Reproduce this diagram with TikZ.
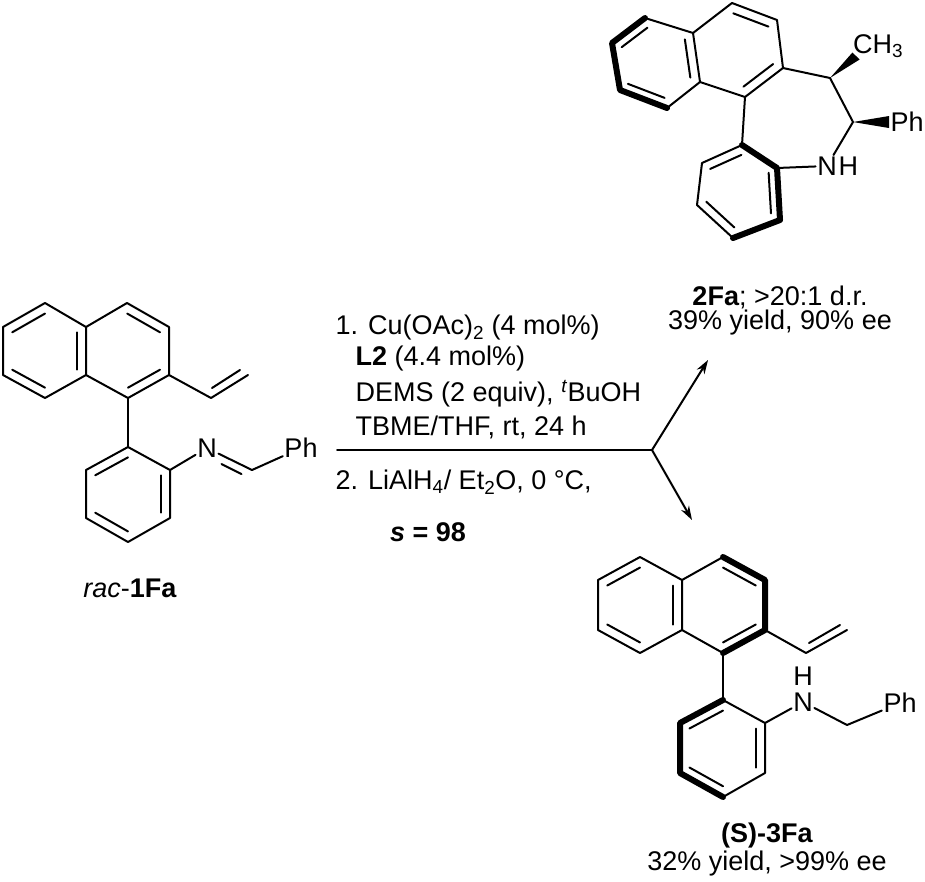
\documentclass[tikz,border=0pt]{standalone}
\usepackage{fontspec}
\setmainfont{Liberation Sans}
\usetikzlibrary{calc,arrows.meta}
\tikzset{bond/.style={line width=2pt,line cap=round,line join=round},
 thick bond/.style={line width=6pt,line cap=round,line join=round},
 lbl/.style={inner sep=1.5pt,font=\fontsize{27}{32}\selectfont},
 arr/.style={line width=2pt,-{Stealth[length=14pt,width=9pt]}}}
\newcommand\ib[3]{\draw[bond] ($(#1)!0.22!(#3)$) -- ($(#2)!0.22!(#3)$);}
\begin{document}
\begin{tikzpicture}[x=1pt,y=-1pt]
\useasboundingbox (0,0) rectangle (925,881);
% ===== substrate rac-1Fa
\coordinate (a1) at (45,303); \coordinate (a2) at (86,327); \coordinate (a3) at (86,375);
\coordinate (a4) at (45,398); \coordinate (a5) at (3,375); \coordinate (a6) at (3,327);
\coordinate (aL) at (45,351);
\coordinate (b2) at (127,303); \coordinate (b3) at (169,327); \coordinate (b4) at (169,375);
\coordinate (b5) at (128,398); \coordinate (bR) at (128,351);
\draw[bond] (a1)--(a2)--(a3)--(a4)--(a5)--(a6)--cycle;
\draw[bond] (a2)--(b2)--(b3)--(b4)--(b5)--(a3);
\ib{a1}{a6}{aL}\ib{a5}{a4}{aL}\ib{a2}{a3}{aL}
\ib{b2}{b3}{bR}\ib{b4}{b5}{bR}
\coordinate (v1) at (211,398); \coordinate (v2) at (248,375);
\draw[bond] (b4)--(v1)--(v2);
\draw[bond] (212,388)--(240,370);
\coordinate (c1) at (128,447); \coordinate (c2) at (170,470); \coordinate (c3) at (170,518);
\coordinate (c4) at (128,542); \coordinate (c5) at (86,518); \coordinate (c6) at (86,470);
\coordinate (cC) at (128,494);
\draw[bond] (b5)--(c1);
\draw[bond] (c1)--(c2)--(c3)--(c4)--(c5)--(c6)--cycle;
\ib{c1}{c6}{cC}\ib{c2}{c3}{cC}\ib{c4}{c5}{cC}
\node[lbl] (n1) at (207,448) {N};
\node[lbl] (ph1) at (301,448) {Ph};
\coordinate (im) at (252,470);
\draw[bond] (c2)--(n1)--(im)--(ph1);
\draw[bond] (221.5,464)--(241.5,474);
\node[lbl] (l1) at (130,588) {\textit{rac}-\textbf{1Fa}};
% ===== arrow and conditions
\coordinate (s0) at (337,450); \coordinate (br) at (652,450);
\coordinate (up) at (708,360); \coordinate (dn) at (692,520);
\draw[bond] (s0)--(br);
\draw[arr] (br)--(up);
\draw[arr] (br)--(dn);
\node[lbl,anchor=west] (r1) at (334,328) {1. Cu(OAc)\textsubscript{2} (4 mol\%)};
\node[lbl,anchor=west] (r2) at (354,359) {\textbf{L2} (4.4 mol\%)};
\node[lbl,anchor=west] (r3) at (354,394) {DEMS (2 equiv), \textsuperscript{\textit{t}}BuOH};
\node[lbl,anchor=west] (r4) at (354,427) {TBME/THF, rt, 24 h};
\node[lbl,anchor=west] (r5) at (334,482) {2. LiAlH\textsubscript{4}/ Et\textsubscript{2}O, 0 °C,};
\node[lbl] (r6) at (428,532) {\textbf{\textit{s} = 98}};
% ===== product 2Fa
\coordinate (p1) at (645,18); \coordinate (p2) at (612,43); \coordinate (p3) at (620,90);
\coordinate (p4) at (667,108); \coordinate (p5) at (700,82); \coordinate (p6) at (693,33);
\coordinate (pL) at (656,62);
\coordinate (q2) at (732,3); \coordinate (q3) at (777,20); \coordinate (q4) at (783,68);
\coordinate (q5) at (745,97); \coordinate (qR) at (738,50);
\draw[bond] (p3)--(p4) (p4)--(p5)--(p6)--(p1);
\draw[thick bond] (p1)--(p2)--(p3)--(p4);
\draw[bond] (p6)--(q2)--(q3)--(q4)--(q5)--(p5);
\ib{p1}{p2}{pL}\ib{p3}{p4}{pL}\ib{p5}{p6}{pL}
\ib{q2}{q3}{qR}\ib{q4}{q5}{qR}
\coordinate (d1) at (742,145); \coordinate (d2) at (777,168); \coordinate (d3) at (780,220);
\coordinate (d4) at (733,238); \coordinate (d5) at (697,205); \coordinate (d6) at (702,163);
\coordinate (dC) at (739,190);
\draw[bond] (q5)--(d1);
\draw[bond] (d3)--(d4)--(d5)--(d6)--(d1);
\draw[thick bond] (d1)--(d2)--(d3)--(d4);
\ib{d1}{d6}{dC}\ib{d5}{d4}{dC}\ib{d2}{d3}{dC}
\coordinate (e1) at (830,78); \coordinate (e2) at (853,122);
\node[lbl] (n2) at (827,166) {N};
\node[lbl,anchor=west,inner sep=0pt] (h2) at (n2.east) {H};
\draw[bond] (q4)--(e1)--(e2)--(n2)--(d2);
\fill (e1)--(859.6,59.5)--(852.4,52.5)--cycle;
\node[lbl] (me) at (878,46) {CH\textsubscript{3}};
\fill (e2)--(889,116)--(889,128)--cycle;
\node[lbl] (ph2) at (907,122) {Ph};
\node[lbl] (l2) at (780,297) {\textbf{2Fa}; >20:1 d.r.};
\node[lbl] (l2b) at (780,323) {39\% yield, 90\% ee};
% ===== product 3Fa
\coordinate (f1) at (640,557); \coordinate (f2) at (682,580); \coordinate (f3) at (682,630);
\coordinate (f4) at (640,653); \coordinate (f5) at (598,630); \coordinate (f6) at (598,580);
\coordinate (fL) at (640,605);
\coordinate (g2) at (723,557); \coordinate (g3) at (765,580); \coordinate (g4) at (765,630);
\coordinate (g5) at (723,653); \coordinate (gR) at (723,605);
\draw[bond] (f1)--(f2)--(f3)--(f4)--(f5)--(f6)--cycle;
\draw[bond] (f2)--(g2) (g5)--(f3);
\draw[thick bond] (g2)--(g3)--(g4)--(g5);
\ib{f1}{f6}{fL}\ib{f5}{f4}{fL}\ib{f2}{f3}{fL}
\ib{g2}{g3}{gR}\ib{g4}{g5}{gR}
\coordinate (w1) at (806,653); \coordinate (w2) at (847,630);
\draw[bond] (g4)--(w1)--(w2);
\draw[bond] (809,643)--(840,625);
\coordinate (k1) at (723,700); \coordinate (k2) at (765,723); \coordinate (k3) at (765,773);
\coordinate (k4) at (723,797); \coordinate (k5) at (680,773); \coordinate (k6) at (680,723);
\coordinate (kC) at (723,748);
\draw[bond] (g5)--(k1);
\draw[bond] (k1)--(k2)--(k3)--(k4);
\draw[thick bond] (k4)--(k5)--(k6)--(k1);
\ib{k1}{k6}{kC}\ib{k2}{k3}{kC}\ib{k4}{k5}{kC}
\node[lbl] (n3) at (803,702) {N};
\node[lbl] (h3) at (803,676) {H};
\coordinate (ch2) at (847,725);
\node[lbl] (ph3) at (900,703) {Ph};
\draw[bond] (k2)--(n3)--(ch2)--(ph3);
\node[lbl] (l3) at (767,836) {\textbf{(S)-3Fa}};
\node[lbl] (l3b) at (767,864) {32\% yield, >99\% ee};
\end{tikzpicture}
\end{document}
